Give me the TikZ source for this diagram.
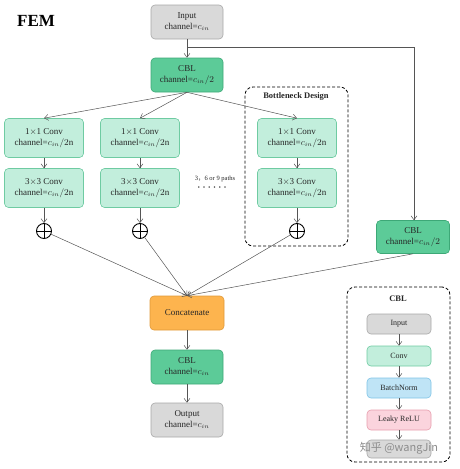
\documentclass[tikz,border=0pt]{standalone}
\usepackage{fontspec}
\setmainfont{Liberation Serif}
\newfontfamily\cjkfont{Noto Sans CJK SC}
\usetikzlibrary{arrows.meta}
\definecolor{grayfill}{HTML}{D9D9D9}
\definecolor{grayedge}{HTML}{A8A8A8}
\definecolor{cblfill}{HTML}{5CCB98}
\definecolor{cbledge}{HTML}{3DA877}
\definecolor{convfill}{HTML}{C2EEDC}
\definecolor{convedge}{HTML}{6FCBA2}
\definecolor{catfill}{HTML}{FDB44E}
\definecolor{catedge}{HTML}{E0993A}
\definecolor{bnfill}{HTML}{BFE4F6}
\definecolor{bnedge}{HTML}{80C4E6}
\definecolor{relufill}{HTML}{FBD4DD}
\definecolor{reluedge}{HTML}{E79EAE}
\definecolor{txt}{HTML}{262626}
\definecolor{arr}{HTML}{555555}
\definecolor{wmark}{HTML}{8C8C8C}
\tikzset{
  basebox/.style={rounded corners=4pt, draw, line width=0.6pt, align=center, inner sep=1pt,
    text=txt, font=\fontsize{9}{11}\selectfont},
  graybox/.style={basebox, fill=grayfill, draw=grayedge, minimum width=72pt, minimum height=34pt},
  cblbox/.style={basebox, fill=cblfill, draw=cbledge, minimum width=72pt, minimum height=34pt},
  convbox/.style={basebox, fill=convfill, draw=convedge, minimum width=79pt, minimum height=39pt},
  catbox/.style={basebox, fill=catfill, draw=catedge, minimum width=74pt, minimum height=34pt},
  legbox/.style={basebox, minimum width=64pt, minimum height=20pt, font=\fontsize{8}{9}\selectfont},
  dashbox/.style={draw=black, dashed, dash pattern=on 3pt off 2pt, line width=0.8pt, rounded corners=8pt, inner sep=0pt},
  oplus/.style={circle, draw=black, line width=0.9pt, minimum size=15pt, inner sep=0pt,
    path picture={\draw[line width=0.9pt] (path picture bounding box.north) -- (path picture bounding box.south)
      (path picture bounding box.west) -- (path picture bounding box.east);}},
  conn/.style={draw=arr, line width=0.5pt, -{Straight Barb[length=4pt,width=6pt]}},
  plain/.style={draw=arr, line width=0.5pt},
}
\begin{document}
\begin{tikzpicture}[x=1pt,y=-1pt]
\useasboundingbox (0,0) rectangle (460,469);

% title
\node[font=\fontsize{17}{19}\selectfont\bfseries] (fem) at (36,21) {FEM};

% dashed containers
\node[dashbox, minimum width=103pt, minimum height=159pt] (bneck) at (296.5,166.5) {};
\node[font=\fontsize{8.5}{9}\selectfont\bfseries, text=txt] (bnlabel) at (296,96) {Bottleneck Design};
\node[dashbox, minimum width=103pt, minimum height=175pt] (legend) at (398.5,374.5) {};
\node[font=\fontsize{8.5}{9}\selectfont\bfseries, text=txt] (leglabel) at (398,299) {CBL};

% main column
\node[graybox] (input) at (187,22) {Input\\channel=$c_{in}$};
\node[cblbox] (cbl1) at (187,75) {CBL\\channel=$c_{in}/2$};
\node[catbox] (cat) at (187,313) {Concatenate};
\node[cblbox] (cbl2) at (187,367) {CBL\\channel=$c_{in}$};
\node[graybox] (output) at (187,420) {Output\\channel=$c_{in}$};

% branches
\node[convbox] (a1) at (44,138) {1$\times$1 Conv\\channel=$c_{in}/2$n};
\node[convbox] (a3) at (44,188) {3$\times$3 Conv\\channel=$c_{in}/2$n};
\node[oplus] (ap) at (44,231) {};
\node[convbox] (b1) at (140,138) {1$\times$1 Conv\\channel=$c_{in}/2$n};
\node[convbox] (b3) at (140,188) {3$\times$3 Conv\\channel=$c_{in}/2$n};
\node[oplus] (bp) at (140,231) {};
\node[convbox] (c1) at (297,138) {1$\times$1 Conv\\channel=$c_{in}/2$n};
\node[convbox] (c3) at (297,188) {3$\times$3 Conv\\channel=$c_{in}/2$n};
\node[oplus] (cp) at (297,231) {};

\node[font=\fontsize{6.5}{7}\selectfont, text=txt] (paths) at (215,179) {3{\cjkfont ，}6 or 9 paths};
\node[font=\fontsize{9}{9}\selectfont\bfseries, text=txt] (dots) at (212,189) {· · · · · ·};

% right CBL
\node[cblbox, minimum width=73pt, minimum height=33pt] (cblr) at (413,237) {CBL\\channel=$c_{in}/2$};

% legend boxes
\node[legbox, fill=grayfill, draw=grayedge] (l1) at (399,324) {Input};
\node[legbox, fill=convfill, draw=convedge] (l2) at (399,356) {Conv};
\node[legbox, fill=bnfill, draw=bnedge] (l3) at (399,388) {BatchNorm};
\node[legbox, fill=relufill, draw=reluedge] (l4) at (399,420) {Leaky ReLU};
\node[legbox, fill=grayfill, draw=grayedge, minimum height=18pt] (l5) at (399,449) {};
\node[font=\fontsize{11}{12}\selectfont, text=wmark] (wm) at (399,448) {\cjkfont 知乎 @wangJin};

% connectors
\coordinate (split) at (187,47);
\coordinate (corner) at (414,47);
\draw[conn] (input) -- (cbl1);
\draw[plain] (split) -- (corner);
\draw[conn] (corner) -- (cblr.north -| corner);
\draw[conn] (cbl1.south) -- (a1.north);
\draw[conn] (cbl1.south) -- (b1.north);
\draw[conn] (cbl1.south) -- (c1.north);
\draw[conn] (a1) -- (a3);
\draw[conn] (b1) -- (b3);
\draw[conn] (c1) -- (c3);
\draw[conn] (a3) -- (ap);
\draw[conn] (b3) -- (bp);
\draw[conn] (c3) -- (cp);
\draw[conn] (ap) -- (cat.north);
\draw[conn] (bp) -- (cat.north);
\draw[conn] (cp) -- (cat.north);
\draw[conn] (cblr.south) -- (cat.north);
\draw[conn] (cat) -- (cbl2);
\draw[conn] (cbl2) -- (output);
\draw[conn] (l1) -- (l2);
\draw[conn] (l2) -- (l3);
\draw[conn] (l3) -- (l4);
\draw[conn] (l4) -- (l5);
\end{tikzpicture}
\end{document}
